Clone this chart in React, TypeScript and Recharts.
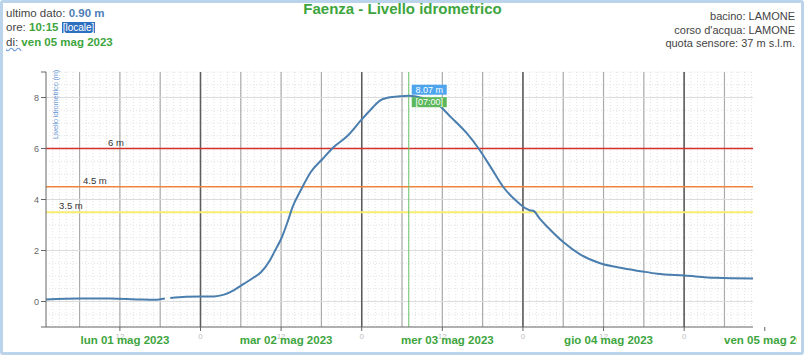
import React from 'react';
import { LineChart, Line, XAxis, YAxis, CartesianGrid, ReferenceLine } from 'recharts';

// hours since lun 01 mag 2023 00:00
const hours = [
  1, 6, 10.5, 15, 17.2, 18.7, 19, 19.5, 21.8, 24, 26, 27.5, 29, 30.5, 31.8, 33, 34.3, 35.2, 36,
  37, 37.7, 38.9, 40.4, 42.2, 43.8, 45.9, 48, 49.5, 50.7, 52, 53.7, 55, 57, 59.3, 61.2, 63.7,
  65.4, 67.2, 69.1, 71.2, 72.4, 73, 73.6, 74.5, 75.7, 78, 80.5, 83.5, 86.5, 89.5, 92, 96,
  100.7, 106.25,
];
const levels = [
  0.08, 0.12, 0.12, 0.08, 0.07, 0.12, null, 0.14, 0.19, 0.2, 0.2, 0.27, 0.45, 0.7, 0.92, 1.15,
  1.6, 2.05, 2.45, 3.15, 3.7, 4.35, 5.07, 5.6, 6.05, 6.5, 7.14, 7.57, 7.88, 8.0, 8.05, 8.07,
  7.98, 7.74, 7.25, 6.58, 6.0, 5.27, 4.48, 3.9, 3.65, 3.58, 3.55, 3.25, 2.91, 2.33, 1.85, 1.5,
  1.32, 1.19, 1.09, 1.02, 0.93, 0.9,
];
const dayLabels = ['lun 01 mag 2023', 'mar 02 mag 2023', 'mer 03 mag 2023', 'gio 04 mag 2023', 'ven 05 mag 2023'];
const xTicks = [12, 24, 36, 48, 60, 72, 84, 96, 108];
const midnights = [24, 48, 72, 96];
const yTicks = [-1, 0, 2, 4, 6, 8, 9];
const thresholds = [6, 4.5, 3.5];
const thresholdLabels = ['6 m', '4.5 m', '3.5 m'];
const peakHour = 55;
const peakValue = 8.07;
const peakTime = '[07:00]';

const X0 = 1;
const X1 = 106.25;
const Y0 = -1;
const Y1 = 9;

const data = hours.map((h, i) => ({ h, level: levels[i] }));

const thresholdColors = ['#d2302a', '#f0843c', '#f6ee72'];
const thresholdWidths = [1.5, 1.5, 2];
const thresholdLabelX = [62, 37, 13];
const font = '"Liberation Sans", Arial, sans-serif';
const green = '#3ea53e';

const range = (a: number, b: number, step: number) => {
  const out: number[] = [];
  for (let v = a; v <= b + 1e-9; v += step) out.push(v);
  return out;
};

const xPix = (h: number, off: any) => off.left + ((h - X0) / (X1 - X0)) * off.width;
const yPix = (v: number, off: any) => off.top + ((Y1 - v) / (Y1 - Y0)) * off.height;

const XTick = (props: any) => {
  const { x, y, payload } = props;
  const h = payload.value;
  const isMidnight = h % 24 === 0;
  const day = Math.floor(h / 24);
  return (
    <g>
      {h <= X1 && (
        <text x={x} y={y + 6} textAnchor="middle" fontSize={8} fill="#bdbdbd" fontFamily={font}>
          {isMidnight ? '0' : '12'}
        </text>
      )}
      {!isMidnight && (
        <text x={x + 5} y={y + 11} textAnchor="middle" fontSize={11.5} fontWeight="bold" fill={green} fontFamily={font}>
          {dayLabels[day]}
        </text>
      )}
    </g>
  );
};

const ThresholdLabel = ({ viewBox, i }: any) => (
  <text x={viewBox.x + thresholdLabelX[i]} y={viewBox.y - 3} fontSize={9.5} fill="#333" fontFamily={font}>
    {thresholdLabels[i]}
  </text>
);

const PeakLabel = ({ viewBox }: any) => {
  const { x, y, height } = viewBox;
  const py = y + ((Y1 - peakValue) / (Y1 - Y0)) * height;
  return (
    <g fontFamily={font} fontSize={9} fill="#fff">
      <rect x={x + 3} y={py - 11} width={35} height={10} fill="#4ea5ee" />
      <text x={x + 20.5} y={py - 3} textAnchor="middle">{peakValue.toFixed(2)} m</text>
      <rect x={x + 3} y={py + 1.5} width={35} height={10} fill="#5cb85c" />
      <text x={x + 20.5} y={py + 9.5} textAnchor="middle">{peakTime}</text>
    </g>
  );
};

export default function App() {
  return (
    <div style={{ position: 'absolute', left: 0, top: 0, width: 805, height: 356, background: '#fff', fontFamily: font }}>
      <div
        style={{
          position: 'absolute', left: 0, top: 0, width: 804, height: 355, boxSizing: 'border-box',
          border: '3px solid #bcd3ec', borderRadius: 3,
        }}
      />
      <div style={{ position: 'absolute', left: 0, width: 805, top: 0, textAlign: 'center', fontSize: 15, fontWeight: 'bold', color: green, fontFamily: '"Liberation Sans Narrow", ' + font }}>
        Faenza - Livello idrometrico
      </div>
      <div style={{ position: 'absolute', left: 6, top: 6, fontSize: 11.5, lineHeight: '14px', color: '#444' }}>
        <div>ultimo dato: <b style={{ color: '#4f80b8' }}>0.90 m</b></div>
        <div>
          ore: <b style={{ color: green }}>10:15</b>{' '}
          <span style={{ background: '#2f6fc0', color: '#fff', fontSize: 10, padding: '0 1px' }}>[locale]</span>
        </div>
        <div>
          <span style={{ textDecoration: 'underline wavy #6d9ad6' }}>di: </span>
          <b style={{ color: green }}>ven 05 mag 2023</b>
        </div>
      </div>
      <div style={{ position: 'absolute', right: 10, top: 10, fontSize: 11, lineHeight: '13.5px', color: '#444', textAlign: 'right' }}>
        <div>bacino: LAMONE</div>
        <div>corso d'acqua: LAMONE</div>
        <div>quota sensore: 37 m s.l.m.</div>
      </div>
      <div style={{ position: 'absolute', left: 0, top: 0 }}>
        <LineChart width={797} height={356} data={data} margin={{ top: 72, right: 44, bottom: 0, left: 6 }}>
          <CartesianGrid
            stroke="#e2e2e2"
            strokeDasharray="1 2"
            verticalCoordinatesGenerator={({ offset }: any) => range(2, 106, 1).map((h) => xPix(h, offset))}
            horizontalCoordinatesGenerator={({ offset }: any) => range(-1, 9, 0.5).map((v) => yPix(v, offset))}
          />
          <CartesianGrid
            stroke="#ababab"
            strokeWidth={1.2}
            verticalCoordinatesGenerator={({ offset }: any) => range(6, 102, 6).map((h) => xPix(h, offset))}
            horizontal={false}
          />
          <CartesianGrid
            stroke="#dcdcdc"
            vertical={false}
            horizontalCoordinatesGenerator={({ offset }: any) => range(0, 8, 2).map((v) => yPix(v, offset))}
          />
          <XAxis
            type="number"
            dataKey="h"
            domain={[X0, X1]}
            ticks={xTicks}
            interval={0}
            allowDataOverflow
            height={29}
            stroke="#666"
            tickSize={4}
            tick={<XTick />}
          />
          <YAxis
            type="number"
            domain={[Y0, Y1]}
            ticks={yTicks}
            interval={0}
            width={40}
            stroke="#666"
            tickSize={5}
            tick={{ fontSize: 9, fill: '#666', fontFamily: font }}
            tickFormatter={(v: number) => (v === Y0 || v === Y1 ? '' : String(v))}
          />
          {midnights.map((h) => (
            <ReferenceLine key={h} x={h} stroke="#5c5c5c" strokeWidth={1.5} />
          ))}
          {thresholds.map((v, i) => (
            <ReferenceLine
              key={v}
              y={v}
              stroke={thresholdColors[i]}
              strokeWidth={thresholdWidths[i]}
              label={(p: any) => <ThresholdLabel {...p} i={i} />}
            />
          ))}
          <ReferenceLine x={peakHour} stroke="#6cc46c" strokeWidth={1} />
          <Line
            type="monotone"
            dataKey="level"
            stroke="#4a7eae"
            strokeWidth={2}
            dot={false}
            connectNulls={false}
            isAnimationActive={false}
          />
          <ReferenceLine x={peakHour} stroke="none" label={(p: any) => <PeakLabel {...p} />} />
        </LineChart>
      </div>
      <div
        style={{
          position: 'absolute', left: 51, top: 139, transform: 'rotate(-90deg)', transformOrigin: 'left top',
          fontSize: 7.5, letterSpacing: -0.2, color: '#6d9ad6', whiteSpace: 'nowrap',
        }}
      >
        Livello idrometrico (m)
      </div>
    </div>
  );
}
